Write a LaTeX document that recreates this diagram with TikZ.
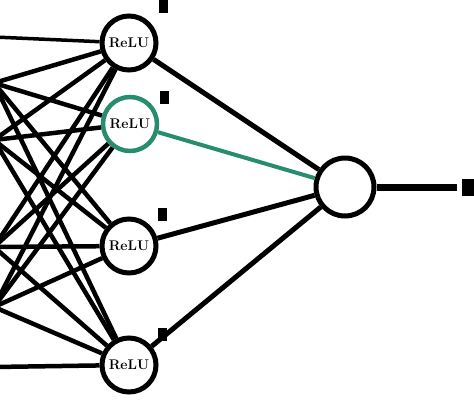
\documentclass[tikz,border=0pt]{standalone}
\definecolor{tealc}{RGB}{40,140,110}
\begin{document}
\begin{tikzpicture}[x=1pt,y=-1pt,
  neuron/.style={circle,draw=black,line width=5pt,minimum size=54pt,inner sep=0pt,font=\fontsize{14}{14}\selectfont\bfseries},
  conn/.style={line width=4.5pt},
  tagbox/.style={fill=black,minimum width=9pt,minimum height=13pt,inner sep=0pt}]
\useasboundingbox (0,0) rectangle (474,402);
\clip (0,0) rectangle (474,402);
% hidden layer
\node[neuron] (h1) at (129,43) {ReLU};
\node[neuron,draw=tealc,line width=4.5pt] (h2) at (130,124) {ReLU};
\node[neuron] (h3) at (129,246) {ReLU};
\node[neuron] (h4) at (129,365) {ReLU};
% output
\node[neuron,minimum size=58pt] (o) at (345,187) {};
% small tags
\node[tagbox] (t1) at (163,6) {};
\node[tagbox] (t2) at (164,97) {};
\node[tagbox] (t3) at (162,214) {};
\node[tagbox] (t4) at (162,334) {};
% inputs (off the left edge)
\coordinate (a) at (-6,83);
\coordinate (b) at (-6,140);
\coordinate (d) at (-6,247);
\coordinate (e) at (-6,307);
\coordinate (L1) at (-6,37);
\coordinate (L4) at (-6,367);
\foreach \i in {a,b,d,e}{
  \foreach \h in {h1,h2,h3,h4}{
    \draw[conn] (\i) -- (\h);
  }
}
\draw[conn,line width=3.5pt] (L1) -- (h1);
\draw[conn] (L4) -- (h4);
% hidden to output
\draw[conn,line width=5pt] (h1) -- (o);
\draw[line width=4pt,tealc] (h2) -- (o);
\draw[conn,line width=5pt] (h3) -- (o);
\draw[conn,line width=5pt] (h4) -- (o);
% output line
\coordinate (oend) at (457,187);
\draw[line width=7pt] (o) -- (oend);
\node[fill=black,minimum width=12pt,minimum height=17pt,inner sep=0pt] (ylab) at (468,187) {};
\end{tikzpicture}
\end{document}
